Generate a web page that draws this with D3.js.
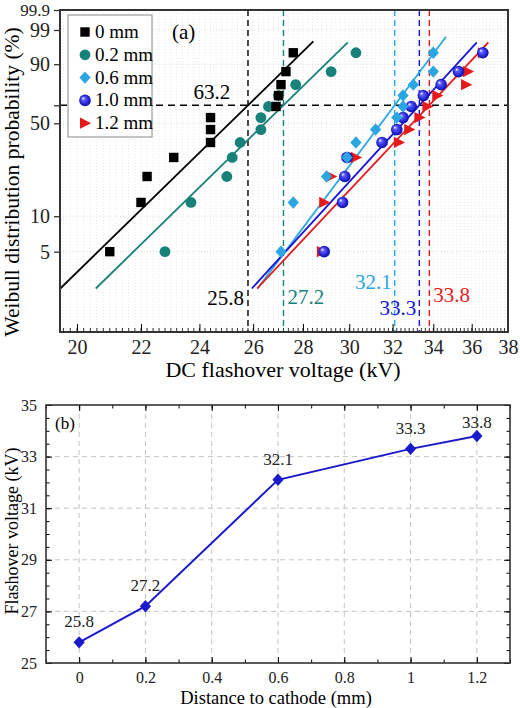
<!DOCTYPE html>
<html>
<head>
<meta charset="utf-8">
<script src="https://cdnjs.cloudflare.com/ajax/libs/d3/7.8.5/d3.min.js"></script>
<style>
body { margin: 0; background: #fff; }
svg text { font-family: "Liberation Serif", "Times New Roman", serif; }
</style>
</head>
<body>
<div id="chart"></div>
<script>
// ---- Panel (a): Weibull plot data ----
var seriesNames = ["0 mm", "0.2 mm", "0.6 mm", "1.0 mm", "1.2 mm"];
var seriesColors = ["#000000", "#17817a", "#2aa6e2", "#1515d8", "#e51b1b"];
var seriesShapes = ["square", "circle", "diamond", "ball", "triangle"];

// Flashover voltages (kV), sorted by rank
var v0mm = [21.0, 22.0, 22.2, 23.1, 24.4, 24.4, 24.4, 26.9, 27.0, 27.1, 27.3, 27.6];
var v02mm = [22.8, 23.7, 25.0, 25.2, 25.5, 26.3, 26.3, 26.6, 27.0, 27.7, 29.2, 30.3];
var v06mm = [27.1, 27.6, 29.0, 29.9, 30.3, 31.2, 32.2, 32.5, 32.5, 33.0, 34.0, 34.0];
var v10mm = [28.9, 29.7, 29.8, 29.9, 31.5, 32.2, 32.5, 32.9, 33.5, 34.4, 35.3, 36.6];
var v12mm = [28.8, 28.9, 29.2, 30.3, 32.3, 32.8, 33.3, 33.7, 34.2, 35.7, 35.8, 36.6];

// Cumulative probability (%) of each rank
var rankProb = [5.0, 13.0, 21.0, 29.3, 37.5, 45.7, 54.1, 62.3, 70.4, 78.1, 86.2, 94.5];

// Weibull fits: scale (63.2 % voltage, kV) and shape parameter
var fitScale = [25.8, 27.2, 32.1, 33.3, 33.8];
var fitShape = [13.3, 13.3, 18.2, 14.9, 14.5];
var fitLow = [2.4, 2.4, 2.4, 2.4, 2.4];
var fitHigh = [97.4, 97.2, 98.2, 97.2, 97.2];

var xTicksA = [20, 22, 24, 26, 28, 30, 32, 34, 36, 38];
var probTicks = [5, 10, 50, 63.2, 90, 99, 99.9];
var probLabels = ["5", "10", "50", "", "90", "99", "99.9"];

// ---- Panel (b): 63.2 % flashover voltage vs distance ----
var distance = [0, 0.2, 0.6, 1.0, 1.2];
var flashover = [25.8, 27.2, 32.1, 33.3, 33.8];
var xTicksB = [0, 0.2, 0.4, 0.6, 0.8, 1, 1.2];
var yTicksB = [25, 27, 29, 31, 33, 35];

var svg = d3.select("#chart").append("svg")
    .attr("width", 520)
    .attr("height", 708);

var defs = svg.append("defs");
var grad = defs.append("radialGradient")
    .attr("id", "ball")
    .attr("cx", "50%").attr("cy", "50%").attr("r", "55%")
    .attr("fx", "32%").attr("fy", "30%");
grad.append("stop").attr("offset", "0%").attr("stop-color", "#ffffff");
grad.append("stop").attr("offset", "28%").attr("stop-color", "#5a5aff");
grad.append("stop").attr("offset", "100%").attr("stop-color", "#0000a8");

function weib(p) { return Math.log(-Math.log(1 - p / 100)); }

function drawMarker(g, shape, color, x, y) {
    if (shape === "square") {
        g.append("rect").attr("x", x - 4.7).attr("y", y - 4.7)
            .attr("width", 9.4).attr("height", 9.4).attr("fill", color);
    } else if (shape === "circle") {
        g.append("circle").attr("cx", x).attr("cy", y).attr("r", 5.4).attr("fill", color);
    } else if (shape === "diamond") {
        g.append("path").attr("d", "M" + x + "," + (y - 6.2) + "L" + (x + 5.6) + "," + y +
            "L" + x + "," + (y + 6.2) + "L" + (x - 5.6) + "," + y + "Z").attr("fill", color);
    } else if (shape === "ball") {
        g.append("circle").attr("cx", x).attr("cy", y).attr("r", 5.8).attr("fill", "url(#ball)");
    } else {
        g.append("path").attr("d", "M" + (x - 5) + "," + (y - 5.6) + "L" + (x + 6.2) + "," + y +
            "L" + (x - 5) + "," + (y + 5.6) + "Z").attr("fill", color);
    }
}

// tidy an axis group: no domain path, serif labels
function tidy(g, size) {
    g.select(".domain").remove();
    g.attr("font-family", null);
    g.selectAll("text").style("font-size", size + "px").attr("fill", "#222");
}

// ================= Panel (a) =================
var a = { left: 60, right: 508, top: 10, bottom: 332 };
var xA = d3.scaleLog().domain([19.5, 38]).range([a.left, a.right]);
var yA = d3.scaleLinear().domain([weib(1), weib(99.9)]).range([a.bottom, a.top]);

var gA = svg.append("g");

// light dotted grid
var minorA = d3.range(19.6, 38.01, 0.2);
gA.append("g").selectAll("line").data(minorA).enter().append("line")
    .attr("x1", d => xA(d)).attr("x2", d => xA(d))
    .attr("y1", a.top).attr("y2", a.bottom)
    .attr("stroke", "#dcdcdc").attr("stroke-width", 0.7).attr("stroke-dasharray", "1,2");
gA.append("g").selectAll("line").data(probTicks).enter().append("line")
    .attr("x1", a.left).attr("x2", a.right)
    .attr("y1", d => yA(weib(d))).attr("y2", d => yA(weib(d)))
    .attr("stroke", "#d4d4d4").attr("stroke-width", 0.8).attr("stroke-dasharray", "1,2");

// x axis, inward ticks
gA.append("g").selectAll("line").data(minorA).enter().append("line")
    .attr("x1", d => xA(d)).attr("x2", d => xA(d))
    .attr("y1", a.bottom).attr("y2", a.bottom - 4)
    .attr("stroke", "#333");
var xAxisA = gA.append("g")
    .attr("transform", "translate(0," + a.bottom + ")")
    .call(d3.axisBottom(xA).tickValues(xTicksA).tickFormat(d3.format("d"))
        .tickSizeInner(-8).tickSizeOuter(0).tickPadding(8));
tidy(xAxisA, 20);

// y axis, outward ticks
var yAxisA = gA.append("g")
    .attr("transform", "translate(" + a.left + ",0)")
    .call(d3.axisLeft(yA).tickValues(probTicks.map(weib))
        .tickFormat((d, i) => probLabels[i]).tickSizeInner(6).tickSizeOuter(0).tickPadding(4));
tidy(yAxisA, 20);
yAxisA.selectAll("line").attr("stroke", "#333").attr("stroke-width", 1.3);
yAxisA.selectAll("text").filter((d, i) => probLabels[i] === "99.9")
    .attr("dy", "5.4").style("font-size", "17px");

// reference dashed lines
gA.append("line")
    .attr("x1", a.left).attr("x2", a.right)
    .attr("y1", yA(weib(63.2))).attr("y2", yA(weib(63.2)))
    .attr("stroke", "#000").attr("stroke-width", 1.5).attr("stroke-dasharray", "7,5");
gA.append("g").selectAll("line").data(fitScale).enter().append("line")
    .attr("x1", d => xA(d)).attr("x2", d => xA(d))
    .attr("y1", a.top).attr("y2", a.bottom)
    .attr("stroke", (d, i) => seriesColors[i])
    .attr("stroke-width", 1.4).attr("stroke-dasharray", "6,4");

gA.append("text").attr("x", xA(25.8) - 36).attr("y", yA(weib(63.2)) - 6)
    .attr("text-anchor", "middle").style("font-size", "21px").text("63.2");

// value labels at the dashed lines
var vLabelDx = [-4, 4, -3, -3, 4];
var vLabelY = [305, 304, 289, 315, 302];
gA.append("g").selectAll("text").data(fitScale).enter().append("text")
    .attr("x", (d, i) => xA(d) + vLabelDx[i])
    .attr("y", (d, i) => vLabelY[i])
    .attr("text-anchor", (d, i) => vLabelDx[i] < 0 ? "end" : "start")
    .attr("fill", (d, i) => seriesColors[i])
    .style("font-size", "21px")
    .text(d => d.toFixed(1));

// fitted lines
var fitLines = gA.append("g");
fitScale.forEach(function (s, i) {
    var v1 = s * Math.exp(weib(fitLow[i]) / fitShape[i]);
    var v2 = s * Math.exp(weib(fitHigh[i]) / fitShape[i]);
    fitLines.append("line")
        .attr("x1", xA(v1)).attr("y1", yA(weib(fitLow[i])))
        .attr("x2", xA(v2)).attr("y2", yA(weib(fitHigh[i])))
        .attr("stroke", seriesColors[i]).attr("stroke-width", 1.8);
});

// data points, drawn last series first
var allSeries = [v0mm, v02mm, v06mm, v10mm, v12mm];
var pts = gA.append("g");
for (var s = allSeries.length - 1; s >= 0; s--) {
    allSeries[s].forEach(function (v, k) {
        drawMarker(pts, seriesShapes[s], seriesColors[s], xA(v), yA(weib(rankProb[k])));
    });
}

// frame
gA.append("rect")
    .attr("x", a.left).attr("y", a.top)
    .attr("width", a.right - a.left).attr("height", a.bottom - a.top)
    .attr("fill", "none").attr("stroke", "#333").attr("stroke-width", 2);

// legend
var leg = gA.append("g");
leg.append("rect").attr("x", 68).attr("y", 15).attr("width", 84).attr("height", 122)
    .attr("fill", "#fff").attr("stroke", "#888").attr("stroke-width", 1);
seriesNames.forEach(function (name, i) {
    var ly = 32 + i * 22.8;
    drawMarker(leg, seriesShapes[i], seriesColors[i], 85, ly);
    leg.append("text").attr("x", 95).attr("y", ly + 6)
        .style("font-size", "19px").text(name);
});

gA.append("text").attr("x", 172).attr("y", 39).style("font-size", "21px").text("(a)");

// axis titles
gA.append("text")
    .attr("transform", "rotate(-90)")
    .attr("x", -182).attr("y", 19)
    .attr("text-anchor", "middle").style("font-size", "21.5px")
    .text("Weibull distribution probability (%)");
gA.append("text")
    .attr("x", 283).attr("y", 377)
    .attr("text-anchor", "middle").style("font-size", "22px")
    .text("DC flashover voltage (kV)");

// ================= Panel (b) =================
var b = { left: 46, right: 510, top: 405, bottom: 663 };
var xB = d3.scaleLinear().domain([-0.1, 1.3]).range([b.left, b.right]);
var yB = d3.scaleLinear().domain([25, 35]).range([b.bottom, b.top]);
var gB = svg.append("g");

// dashed grid
gB.append("g").selectAll("line").data(xTicksB).enter().append("line")
    .attr("x1", d => xB(d)).attr("x2", d => xB(d))
    .attr("y1", b.top).attr("y2", b.bottom)
    .attr("stroke", "#c4c4c4").attr("stroke-width", 1).attr("stroke-dasharray", "5,4");
gB.append("g").selectAll("line").data(yTicksB.slice(1, -1)).enter().append("line")
    .attr("x1", b.left).attr("x2", b.right)
    .attr("y1", d => yB(d)).attr("y2", d => yB(d))
    .attr("stroke", "#c4c4c4").attr("stroke-width", 1).attr("stroke-dasharray", "5,4");

var minorXB = d3.range(-0.1, 1.31, 0.1);
var minorYB = d3.range(25, 35.01, 0.5);

// inward ticks on all four sides
function tickAxis(makeAxis, tr, major, minor, fmt, pad) {
    var gMinor = gB.append("g").attr("transform", tr)
        .call(makeAxis().tickValues(minor).tickFormat(() => null).tickSizeInner(-3.5).tickSizeOuter(0));
    gMinor.select(".domain").remove();
    gMinor.selectAll("text").remove();
    var gMajor = gB.append("g").attr("transform", tr)
        .call(makeAxis().tickValues(major).tickFormat(fmt).tickSizeInner(-6).tickSizeOuter(0).tickPadding(pad));
    tidy(gMajor, 16);
    if (!fmt) gMajor.selectAll("text").remove();
}
tickAxis(() => d3.axisBottom(xB), "translate(0," + b.bottom + ")", xTicksB, minorXB, d3.format("~g"), 9);
tickAxis(() => d3.axisTop(xB), "translate(0," + b.top + ")", xTicksB, minorXB, null, 3);
tickAxis(() => d3.axisLeft(yB), "translate(" + b.left + ",0)", yTicksB, minorYB, d3.format("d"), 9);
tickAxis(() => d3.axisRight(yB), "translate(" + b.right + ",0)", yTicksB, minorYB, null, 3);

// line and markers
gB.append("path")
    .datum(distance)
    .attr("fill", "none")
    .attr("stroke", "#1a1acc")
    .attr("stroke-width", 2)
    .attr("d", d3.line().x(d => xB(d)).y((d, i) => yB(flashover[i])));
distance.forEach(function (d, i) {
    drawMarker(gB, "diamond", "#1a1acc", xB(d), yB(flashover[i]));
});
gB.append("g").selectAll("text").data(distance).enter().append("text")
    .attr("x", d => xB(d))
    .attr("y", (d, i) => Math.max(yB(flashover[i]) - 15, 428))
    .attr("text-anchor", "middle")
    .style("font-size", "17px").attr("fill", "#222")
    .text((d, i) => flashover[i].toFixed(1));

gB.append("rect")
    .attr("x", b.left).attr("y", b.top)
    .attr("width", b.right - b.left).attr("height", b.bottom - b.top)
    .attr("fill", "none").attr("stroke", "#333").attr("stroke-width", 1.6);

gB.append("text").attr("x", 55).attr("y", 429).style("font-size", "17px").text("(b)");

gB.append("text")
    .attr("transform", "rotate(-90)")
    .attr("x", -531).attr("y", 18)
    .attr("text-anchor", "middle").style("font-size", "18px")
    .text("Flashover voltage (kV)");
gB.append("text")
    .attr("x", 276).attr("y", 704)
    .attr("text-anchor", "middle").style("font-size", "18.5px")
    .text("Distance to cathode (mm)");
</script>
</body>
</html>
